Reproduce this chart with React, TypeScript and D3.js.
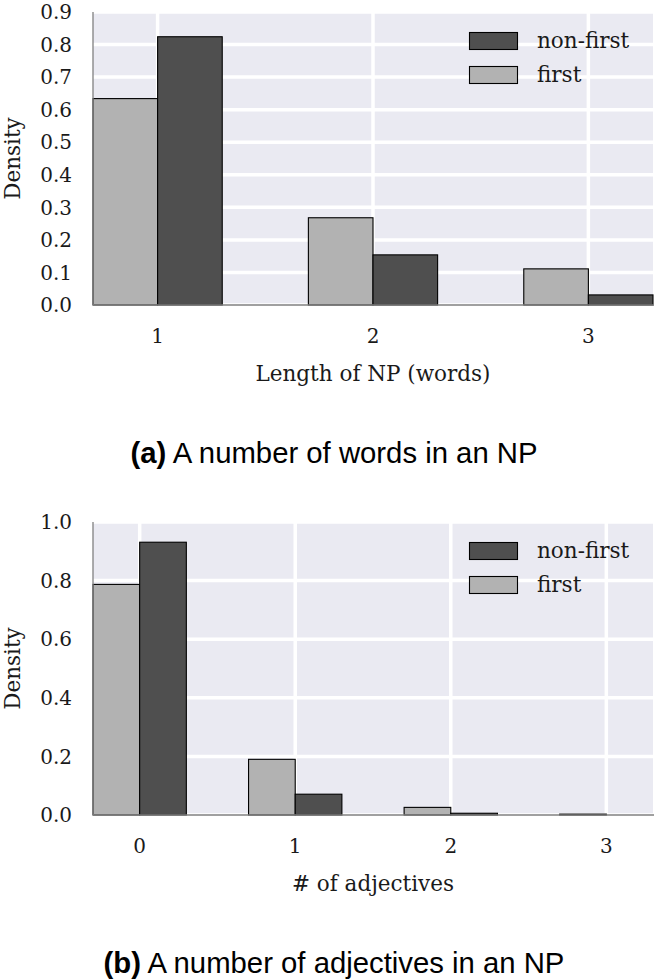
import React from 'react';
import * as d3 from 'd3';

// panel (a): length of NP in words
const lengthCats = [1, 2, 3];
const lengthFirst = [0.634, 0.268, 0.111];
const lengthNonFirst = [0.824, 0.154, 0.031];
const lengthTicksY = [0, 0.1, 0.2, 0.3, 0.4, 0.5, 0.6, 0.7, 0.8, 0.9];

// panel (b): number of adjectives
const adjCats = [0, 1, 2, 3];
const adjFirst = [0.787, 0.19, 0.026, 0.003];
const adjNonFirst = [0.931, 0.071, 0.006, 0];
const adjTicksY = [0, 0.2, 0.4, 0.6, 0.8, 1.0];

const seriesNames = ['non-first', 'first'];

const W = 654;
const H = 979;
const left = 93;
const right = 653;
const barW = 0.3;

const BG = '#eaeaf2';
const LIGHT = '#b2b2b2';
const DARK = '#4f4f4f';
const SERIF = '"DejaVu Serif", serif';
const SANS = '"Liberation Sans", Arial, sans-serif';

interface PanelProps {
  top: number;
  bottom: number;
  cats: number[];
  first: number[];
  nonFirst: number[];
  yMax: number;
  yTicks: number[];
  xLabel: string;
  tag: string;
  caption: string;
}

function Panel({ top, bottom, cats, first, nonFirst, yMax, yTicks, xLabel, tag, caption }: PanelProps) {
  const x = d3.scaleLinear()
    .domain([d3.min(cats)! - barW, d3.max(cats)! + barW])
    .range([left, right]);
  const y = d3.scaleLinear().domain([0, yMax]).range([bottom, top]);
  const fmt = d3.format('.1f');
  const bw = x(barW) - x(0);

  return (
    <g>
      <rect x={left} y={top} width={right - left} height={bottom - top} fill={BG} />
      {yTicks.map(t => (
        <line key={'gy' + t} x1={left} x2={right} y1={y(t)} y2={y(t)} stroke="#fff" strokeWidth={3.5} />
      ))}
      {cats.map(c => (
        <line key={'gx' + c} x1={x(c)} x2={x(c)} y1={top} y2={bottom} stroke="#fff" strokeWidth={3.5} />
      ))}

      {cats.map((c, i) => (
        <g key={'b' + c}>
          <rect x={x(c - barW)} y={y(first[i])} width={bw} height={bottom - y(first[i])}
            fill={LIGHT} stroke="#000" strokeWidth={1.1} />
          <rect x={x(c)} y={y(nonFirst[i])} width={bw} height={bottom - y(nonFirst[i])}
            fill={DARK} stroke="#000" strokeWidth={1.1} />
        </g>
      ))}

      <line x1={left} x2={left} y1={top} y2={bottom} stroke="#808080" strokeWidth={1.3} />
      <line x1={left} x2={right + 1} y1={bottom} y2={bottom} stroke="#808080" strokeWidth={1.3} />

      {yTicks.map(t => (
        <text key={'ty' + t} x={72} y={y(t)} dy="0.36em" textAnchor="end"
          fontFamily={SERIF} fontSize={20} fill="#1a1a1a">{fmt(t)}</text>
      ))}
      {cats.map(c => (
        <text key={'tx' + c} x={x(c)} y={bottom + 38} textAnchor="middle"
          fontFamily={SERIF} fontSize={20} fill="#1a1a1a">{c}</text>
      ))}

      <text transform={`translate(20,${(top + bottom) / 2}) rotate(-90)`} textAnchor="middle"
        fontFamily={SERIF} fontSize={21.5} fill="#1a1a1a">Density</text>
      <text x={(left + right) / 2} y={bottom + 76} textAnchor="middle"
        fontFamily={SERIF} fontSize={21.5} fill="#1a1a1a">{xLabel}</text>

      {seriesNames.map((s, i) => (
        <g key={s}>
          <rect x={469.5} y={top + 20.5 + i * 34} width={48} height={17}
            fill={i === 0 ? DARK : LIGHT} stroke="#000" strokeWidth={1.1} />
          <text x={537} y={top + 36 + i * 34} fontFamily={SERIF} fontSize={21.5} fill="#1a1a1a">{s}</text>
        </g>
      ))}

      <text x={334} y={bottom + 157.5} textAnchor="middle" fontFamily={SANS} fontSize={29.3} fill="#000">
        <tspan fontWeight="bold">{tag}</tspan> {caption}
      </text>
    </g>
  );
}

export default function App() {
  return (
    <div style={{ position: 'absolute', left: 0, top: 0 }}>
      <svg width={W} height={H} style={{ display: 'block', background: '#fff' }}>
        <Panel top={12} bottom={305} cats={lengthCats} first={lengthFirst} nonFirst={lengthNonFirst}
          yMax={0.9} yTicks={lengthTicksY} xLabel="Length of NP (words)" tag="(a)"
          caption="A number of words in an NP" />
        <Panel top={522} bottom={815} cats={adjCats} first={adjFirst} nonFirst={adjNonFirst}
          yMax={1.0} yTicks={adjTicksY} xLabel="# of adjectives" tag="(b)"
          caption="A number of adjectives in an NP" />
      </svg>
    </div>
  );
}
